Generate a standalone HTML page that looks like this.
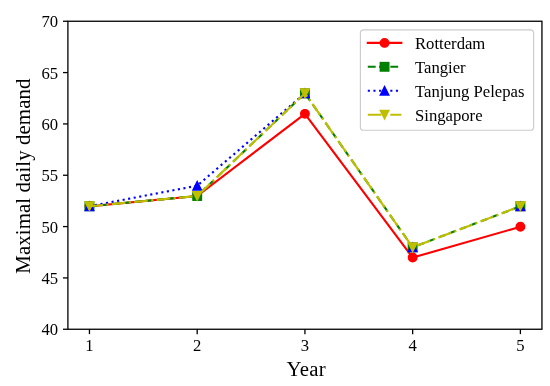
<!DOCTYPE html>
<html><head><meta charset="utf-8"><title>Maximal daily demand</title>
<style>
html,body{margin:0;padding:0;background:#fff;}
body{width:550px;height:386px;overflow:hidden;}
svg{display:block;}
text{font-family:"Liberation Serif","Times New Roman",Times,serif;fill:#000;}
.tk{font-size:16.67px;}
.lb{font-size:20.83px;}
</style></head><body>
<svg width="550" height="386" viewBox="0 0 550 386">
<rect width="550" height="386" fill="#fff"/>
<line x1="89.45" y1="329.25" x2="89.45" y2="334.15" stroke="#000" stroke-width="1.3"/>
<text class="tk" x="89.45" y="351.3" text-anchor="middle">1</text>
<line x1="197.19" y1="329.25" x2="197.19" y2="334.15" stroke="#000" stroke-width="1.3"/>
<text class="tk" x="197.19" y="351.3" text-anchor="middle">2</text>
<line x1="304.93" y1="329.25" x2="304.93" y2="334.15" stroke="#000" stroke-width="1.3"/>
<text class="tk" x="304.93" y="351.3" text-anchor="middle">3</text>
<line x1="412.66" y1="329.25" x2="412.66" y2="334.15" stroke="#000" stroke-width="1.3"/>
<text class="tk" x="412.66" y="351.3" text-anchor="middle">4</text>
<line x1="520.40" y1="329.25" x2="520.40" y2="334.15" stroke="#000" stroke-width="1.3"/>
<text class="tk" x="520.40" y="351.3" text-anchor="middle">5</text>
<line x1="63.00" y1="329.25" x2="67.9" y2="329.25" stroke="#000" stroke-width="1.3"/>
<text class="tk" x="58.1" y="335.45" text-anchor="end">40</text>
<line x1="63.00" y1="277.92" x2="67.9" y2="277.92" stroke="#000" stroke-width="1.3"/>
<text class="tk" x="58.1" y="284.12" text-anchor="end">45</text>
<line x1="63.00" y1="226.58" x2="67.9" y2="226.58" stroke="#000" stroke-width="1.3"/>
<text class="tk" x="58.1" y="232.78" text-anchor="end">50</text>
<line x1="63.00" y1="175.25" x2="67.9" y2="175.25" stroke="#000" stroke-width="1.3"/>
<text class="tk" x="58.1" y="181.45" text-anchor="end">55</text>
<line x1="63.00" y1="123.92" x2="67.9" y2="123.92" stroke="#000" stroke-width="1.3"/>
<text class="tk" x="58.1" y="130.12" text-anchor="end">60</text>
<line x1="63.00" y1="72.58" x2="67.9" y2="72.58" stroke="#000" stroke-width="1.3"/>
<text class="tk" x="58.1" y="78.78" text-anchor="end">65</text>
<line x1="63.00" y1="21.25" x2="67.9" y2="21.25" stroke="#000" stroke-width="1.3"/>
<text class="tk" x="58.1" y="27.45" text-anchor="end">70</text>
<clipPath id="c"><rect x="67.9" y="21.25" width="474.05" height="308.00"/></clipPath>
<g clip-path="url(#c)">
<polyline points="89.45,206.25 197.19,195.98 304.93,113.85 412.66,257.58 520.40,226.78" fill="none" stroke="#ff0000" stroke-width="2.123" stroke-linecap="square" stroke-linejoin="round"/>
<circle cx="89.45" cy="206.25" r="4.25" fill="#ff0000" stroke="#ff0000" stroke-width="1.42"/>
<circle cx="197.19" cy="195.98" r="4.25" fill="#ff0000" stroke="#ff0000" stroke-width="1.42"/>
<circle cx="304.93" cy="113.85" r="4.25" fill="#ff0000" stroke="#ff0000" stroke-width="1.42"/>
<circle cx="412.66" cy="257.58" r="4.25" fill="#ff0000" stroke="#ff0000" stroke-width="1.42"/>
<circle cx="520.40" cy="226.78" r="4.25" fill="#ff0000" stroke="#ff0000" stroke-width="1.42"/>
<polyline points="89.45,206.25 197.19,195.98 304.93,93.32 412.66,247.32 520.40,206.25" fill="none" stroke="#008000" stroke-width="2.123" stroke-dasharray="7.355 3.397 7.355 4.397" stroke-dashoffset="-0.5"/>
<rect x="85.20" y="202.00" width="8.5" height="8.5" fill="#008000" stroke="#008000" stroke-width="1.42"/>
<rect x="192.94" y="191.73" width="8.5" height="8.5" fill="#008000" stroke="#008000" stroke-width="1.42"/>
<rect x="300.68" y="89.07" width="8.5" height="8.5" fill="#008000" stroke="#008000" stroke-width="1.42"/>
<rect x="408.41" y="243.07" width="8.5" height="8.5" fill="#008000" stroke="#008000" stroke-width="1.42"/>
<rect x="516.15" y="202.00" width="8.5" height="8.5" fill="#008000" stroke="#008000" stroke-width="1.42"/>
<polyline points="89.45,206.25 197.19,185.72 304.93,93.32" fill="none" stroke="#0000ff" stroke-width="2.123" stroke-dasharray="2.123 3.503"/>
<path d="M89.45 202.00L85.20 210.50L93.70 210.50Z" fill="#0000ff" stroke="#0000ff" stroke-width="1.42"/>
<path d="M197.19 181.47L192.94 189.97L201.44 189.97Z" fill="#0000ff" stroke="#0000ff" stroke-width="1.42"/>
<path d="M304.93 89.07L300.68 97.57L309.18 97.57Z" fill="#0000ff" stroke="#0000ff" stroke-width="1.42"/>
<path d="M412.66 243.07L408.41 251.57L416.91 251.57Z" fill="#0000ff" stroke="#0000ff" stroke-width="1.42"/>
<path d="M520.40 202.00L516.15 210.50L524.65 210.50Z" fill="#0000ff" stroke="#0000ff" stroke-width="1.42"/>
<polyline points="89.45,206.25 197.19,195.98 304.93,93.32 412.66,247.32 520.40,206.25" fill="none" stroke="#bfbf00" stroke-width="2.123" stroke-dasharray="13.587 3.397 2.123 3.397"/>
<path d="M89.45 210.50L85.20 202.00L93.70 202.00Z" fill="#bfbf00" stroke="#bfbf00" stroke-width="1.42"/>
<path d="M197.19 200.23L192.94 191.73L201.44 191.73Z" fill="#bfbf00" stroke="#bfbf00" stroke-width="1.42"/>
<path d="M304.93 97.57L300.68 89.07L309.18 89.07Z" fill="#bfbf00" stroke="#bfbf00" stroke-width="1.42"/>
<path d="M412.66 251.57L408.41 243.07L416.91 243.07Z" fill="#bfbf00" stroke="#bfbf00" stroke-width="1.42"/>
<path d="M520.40 210.50L516.15 202.00L524.65 202.00Z" fill="#bfbf00" stroke="#bfbf00" stroke-width="1.42"/>
</g>
<rect x="67.9" y="21.25" width="474.05" height="308.00" fill="none" stroke="#000" stroke-width="1.3"/>
<text class="lb" x="306.32" y="375.6" text-anchor="middle" letter-spacing="0.3">Year</text>
<text class="lb" transform="translate(30.2 176.05) rotate(-90)" text-anchor="middle" letter-spacing="0.1">Maximal daily demand</text>
<rect x="360.4" y="29.8" width="173.20" height="100.40" rx="3.3" ry="3.3" fill="#fff" fill-opacity="0.8" stroke="#ccc" stroke-width="1.15"/>
<line x1="367.8" y1="42.9" x2="401.3" y2="42.9" stroke="#ff0000" stroke-width="2.123" stroke-linecap="square"/>
<circle cx="384.55" cy="42.90" r="4.25" fill="#ff0000" stroke="#ff0000" stroke-width="1.42"/>
<text class="tk" x="415.0" y="48.6">Rotterdam</text>
<line x1="367.8" y1="66.8" x2="401.3" y2="66.8" stroke="#008000" stroke-width="2.123" stroke-dasharray="7.86 3.40"/>
<rect x="380.30" y="62.55" width="8.5" height="8.5" fill="#008000" stroke="#008000" stroke-width="1.42"/>
<text class="tk" x="415.0" y="72.6">Tangier</text>
<line x1="367.8" y1="90.8" x2="401.3" y2="90.8" stroke="#0000ff" stroke-width="2.123" stroke-dasharray="2.12 3.50"/>
<path d="M384.55 86.55L380.30 95.05L388.80 95.05Z" fill="#0000ff" stroke="#0000ff" stroke-width="1.42"/>
<text class="tk" x="415.0" y="96.6">Tanjung Pelepas</text>
<line x1="367.8" y1="114.7" x2="401.3" y2="114.7" stroke="#bfbf00" stroke-width="2.123" stroke-dasharray="13.59 3.40 2.12 3.40"/>
<path d="M384.55 118.95L380.30 110.45L388.80 110.45Z" fill="#bfbf00" stroke="#bfbf00" stroke-width="1.42"/>
<text class="tk" x="415.0" y="120.6">Singapore</text>
</svg></body></html>
